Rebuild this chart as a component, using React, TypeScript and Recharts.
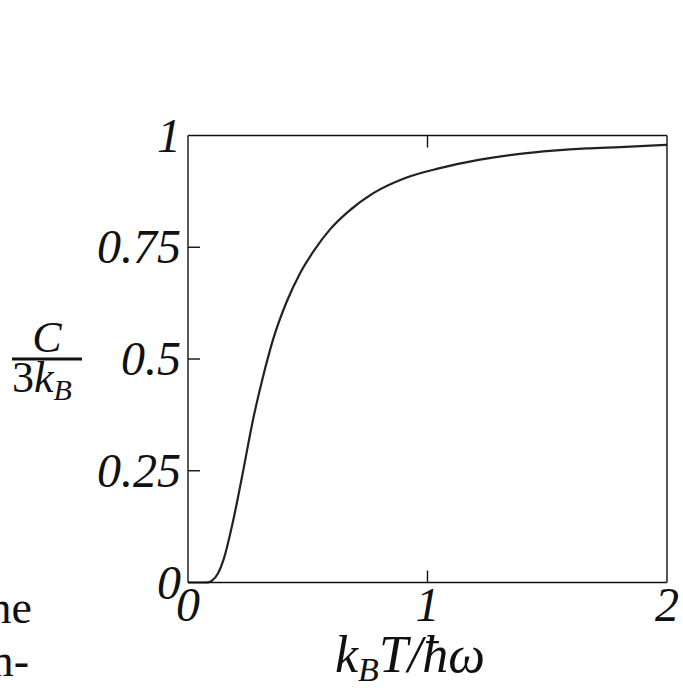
import React from 'react'
import { LineChart, Line, XAxis, YAxis } from 'recharts'

// reduced temperature k_B T / ħω and the heat capacity C / 3k_B
const TEMPS = [0, 0.05, 0.085, 0.1, 0.125, 0.15, 0.19, 0.224, 0.273, 0.314, 0.356, 0.412, 0.468, 0.523, 0.593, 0.663, 0.774, 0.913, 1.052, 1.219, 1.386, 1.525, 1.665, 1.804, 2.0]
const HEAT = [0, 0, 0.0005, 0.004, 0.02, 0.054, 0.142, 0.232, 0.368, 0.462, 0.545, 0.628, 0.692, 0.74, 0.79, 0.827, 0.871, 0.906, 0.927, 0.946, 0.959, 0.966, 0.971, 0.974, 0.979]

const X_TICKS = [0, 1, 2]
const Y_TICKS = [0, 0.25, 0.5, 0.75, 1]
const X_TICK_LABELS = ['0', '1', '2']
const Y_TICK_LABELS = ['0', '0.25', '0.5', '0.75', '1']

const data = TEMPS.map((t, i) => ({ t, c: HEAT[i] }))

const W = 683
const H = 694
const LEFT = 188
const RIGHT = 667
const TOP = 135.5
const BOTTOM = 582.5
const TICK = 12
const FONT = '"Liberation Serif", "DejaVu Serif", serif'
const INK = '#111'

const LeftTick = (props: any) => {
  const { y, payload } = props
  const v = payload.value
  const label = Y_TICK_LABELS[Y_TICKS.indexOf(v)]
  return (
    <g>
      {v !== 0 && v !== 1 && <line x1={LEFT} x2={LEFT + TICK} y1={y} y2={y} stroke={INK} strokeWidth={1.4} />}
      <text x={181} y={y + 16} textAnchor="end" fontFamily={FONT} fontStyle="italic" fontSize={48} fill={INK}>
        {label}
      </text>
    </g>
  )
}

const RightTick = (props: any) => {
  const { y, payload } = props
  const v = payload.value
  if (v === 0 || v === 1) return <g />
  return <line x1={RIGHT - TICK} x2={RIGHT} y1={y} y2={y} stroke={INK} strokeWidth={1.4} />
}

const BottomTick = (props: any) => {
  const { x, payload } = props
  const v = payload.value
  const label = X_TICK_LABELS[X_TICKS.indexOf(v)]
  return (
    <g>
      {v !== 0 && v !== 2 && <line x1={x} x2={x} y1={BOTTOM} y2={BOTTOM - TICK} stroke={INK} strokeWidth={1.4} />}
      <text x={x} y={621} textAnchor="middle" fontFamily={FONT} fontStyle="italic" fontSize={48} fill={INK}>
        {label}
      </text>
    </g>
  )
}

const TopTick = (props: any) => {
  const { x, payload } = props
  const v = payload.value
  if (v === 0 || v === 2) return <g />
  return <line x1={x} x2={x} y1={TOP} y2={TOP + TICK} stroke={INK} strokeWidth={1.4} />
}

const XTitle = () => (
  <text x={410} y={672} textAnchor="middle" fontFamily={FONT} fontStyle="italic" fontSize={52} fill={INK}>
    <tspan>k</tspan>
    <tspan dy={9} fontSize={34}>B</tspan>
    <tspan dy={-9}>T/ħω</tspan>
  </text>
)

const YTitle = () => (
  <g fontFamily={FONT} fill={INK}>
    <text x={47} y={352} textAnchor="middle" fontStyle="italic" fontSize={44}>C</text>
    <rect x={12} y={357.5} width={70} height={3} fill={INK} />
    <text x={12} y={392} fontSize={44}>
      <tspan>3</tspan>
      <tspan fontStyle="italic">k</tspan>
      <tspan dy={8} fontSize={30} fontStyle="italic">B</tspan>
    </text>
  </g>
)

export default function App() {
  return (
    <div style={{ position: 'absolute', left: 0, top: 0, width: W, height: H, background: '#fff' }}>
      <LineChart
        width={W}
        height={H}
        data={data}
        margin={{ top: TOP - 1, right: W - RIGHT - 1, bottom: H - BOTTOM - 40, left: LEFT - 60 }}
      >
        <XAxis
          xAxisId="bottom"
          dataKey="t"
          type="number"
          domain={[0, 2]}
          ticks={X_TICKS}
          height={40}
          axisLine={{ stroke: INK, strokeWidth: 1.4 }}
          tickLine={false}
          tick={<BottomTick />}
          label={{ content: <XTitle /> }}
          interval={0}
        />
        <XAxis
          xAxisId="top"
          orientation="top"
          dataKey="t"
          type="number"
          domain={[0, 2]}
          ticks={X_TICKS}
          height={1}
          axisLine={{ stroke: INK, strokeWidth: 1.4 }}
          tickLine={false}
          tick={<TopTick />}
          interval={0}
        />
        <YAxis
          yAxisId="left"
          type="number"
          domain={[0, 1]}
          ticks={Y_TICKS}
          width={60}
          axisLine={{ stroke: INK, strokeWidth: 1.4 }}
          tickLine={false}
          tick={<LeftTick />}
          label={{ content: <YTitle /> }}
          interval={0}
        />
        <YAxis
          yAxisId="right"
          orientation="right"
          type="number"
          domain={[0, 1]}
          ticks={Y_TICKS}
          width={1}
          axisLine={{ stroke: INK, strokeWidth: 1.4 }}
          tickLine={false}
          tick={<RightTick />}
          interval={0}
        />
        <Line
          xAxisId="bottom"
          yAxisId="left"
          dataKey="c"
          type="monotone"
          stroke="#222"
          strokeWidth={2.2}
          dot={false}
          isAnimationActive={false}
        />
      </LineChart>
      <svg width={W} height={H} style={{ position: 'absolute', left: 0, top: 0, pointerEvents: 'none' }}>
        <g fontFamily={FONT} fontSize={46} fill={INK}>
          <text x={32} y={623} textAnchor="end">ne</text>
          <text x={29} y={676} textAnchor="end">m-</text>
        </g>
      </svg>
    </div>
  )
}
